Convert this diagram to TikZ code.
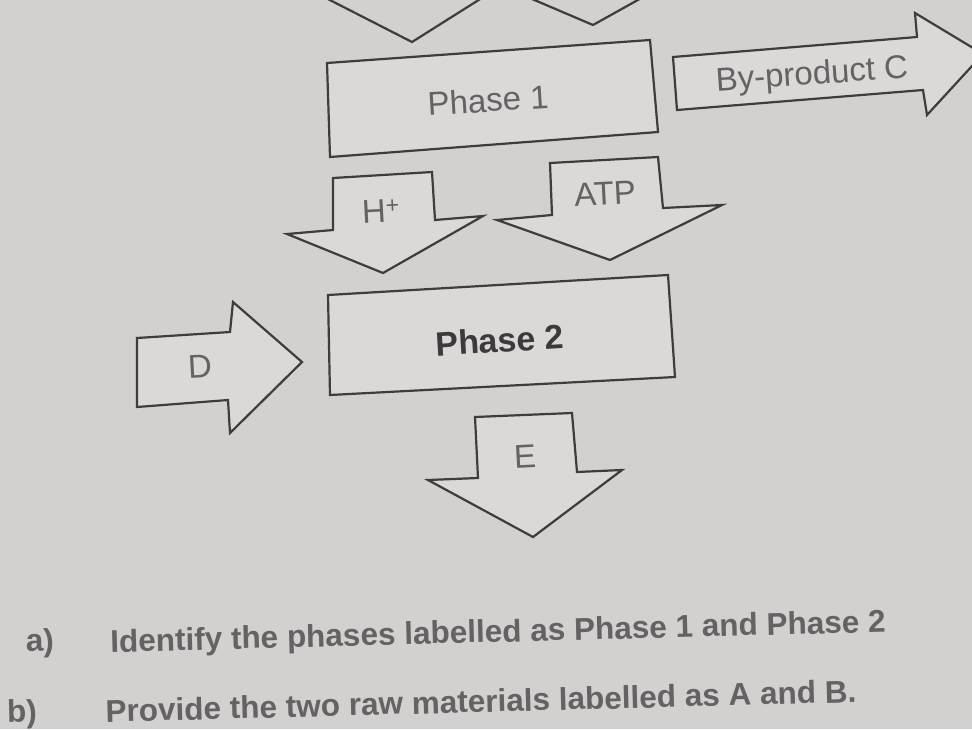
\documentclass[tikz,border=0pt]{standalone}
\usepackage{fontspec}
\setmainfont{Liberation Sans}
\definecolor{paper}{RGB}{211,209,207}
\definecolor{boxfill}{RGB}{219,217,215}
\definecolor{linegray}{RGB}{62,60,60}
\definecolor{textgray}{RGB}{100,98,98}
\definecolor{textdark}{RGB}{60,58,58}
\begin{document}
\begin{tikzpicture}[x=1pt,y=-1pt,
  outline/.style={draw=linegray, line width=2.2pt, line join=miter, fill=boxfill},
  vline/.style={draw=linegray, line width=2.2pt, line join=miter},
  lbl/.style={font=\fontsize{33}{36}\selectfont, text=textgray, inner sep=0pt},
  qtext/.style={font=\fontsize{31.5}{34}\selectfont\bfseries, text=textgray, inner sep=0pt, rotate=1.5}]
\useasboundingbox (0,0) rectangle (972,729);
\begin{scope}
\clip (0,0) rectangle (972,729);
\fill[paper] (0,0) rectangle (972,729);
% tips of the two arrows cut off at the top
\draw[vline] (322,-4) -- (412,42) -- (485,-4);
\draw[vline] (525,-4) -- (593,25) -- (645,-4);
% Phase 1 box
\draw[outline] (327,63) -- (650,40) -- (658,132) -- (330,157) -- cycle;
\node[lbl, rotate=3.5] (p1) at (488,100) {Phase 1};
% By-product C arrow
\draw[outline] (673,57) -- (917,37) -- (915,13) -- (983,54) -- (927,115) -- (923,90) -- (677,110) -- cycle;
\node[lbl, rotate=4] (byc) at (812,76) {By-product C};
% H+ arrow
\draw[outline] (333,178) -- (432,172) -- (435,220) -- (483,216) -- (383,273) -- (287,234) -- (333,230) -- cycle;
\node[lbl, rotate=3] (hplus) at (381,211) {H\textsuperscript{+}};
% ATP arrow
\draw[outline] (550,163) -- (658,157) -- (663,208) -- (722,205) -- (610,260) -- (497,220) -- (552,215) -- cycle;
\node[lbl, rotate=3] (atp) at (605,194) {ATP};
% Phase 2 box
\draw[outline] (328,295) -- (668,275) -- (675,377) -- (330,395) -- cycle;
\node[lbl, rotate=3.5, text=textdark, font=\fontsize{34}{36}\selectfont\bfseries] (p2) at (500,340) {Phase 2};
% D arrow
\draw[outline] (137,338) -- (230,332) -- (233,302) -- (302,362) -- (230,433) -- (228,400) -- (137,407) -- cycle;
\node[lbl, rotate=3] (dlab) at (200,367) {D};
% E arrow
\draw[outline] (475,417) -- (572,413) -- (577,472) -- (622,470) -- (533,537) -- (428,480) -- (478,478) -- cycle;
\node[lbl, rotate=3] (elab) at (525,457) {E};
% questions
\node[qtext] (qalab) at (40,643) {a)};
\node[qtext] (qa) at (498,634) {Identify the phases labelled as Phase 1 and Phase 2};
\node[qtext] (qblab) at (22,714) {b)};
\node[qtext] (qb) at (481,701) {Provide the two raw materials labelled as A and B.};
\end{scope}
\end{tikzpicture}
\end{document}
